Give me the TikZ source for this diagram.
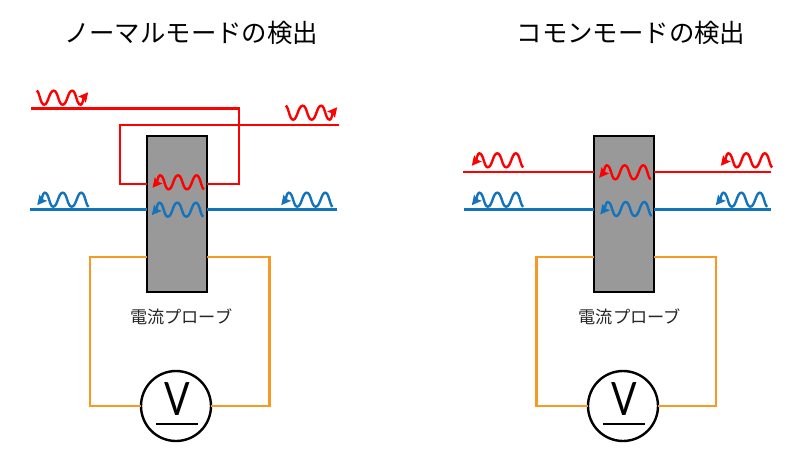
\documentclass[tikz,border=0pt]{standalone}
\usepackage{fontspec}
\setmainfont{Lato}
\newfontfamily\jp{Noto Sans CJK JP}
\usetikzlibrary{arrows.meta}
\definecolor{wred}{HTML}{FF0000}
\definecolor{wblue}{HTML}{1473BD}
\definecolor{worange}{HTML}{F79A24}
\definecolor{pgray}{HTML}{999999}
\tikzset{
  redwire/.style={draw=wred,line width=2.4pt},
  bluewire/.style={draw=wblue,line width=2.4pt},
  orangewire/.style={draw=worange,line width=2.4pt},
  probebox/.style={draw=black,fill=pgray,line width=2.4pt,minimum width=60pt,minimum height=156pt,inner sep=0pt,outer sep=0pt},
  meter/.style={draw=black,fill=white,circle,line width=2.4pt,minimum size=70pt,inner sep=0pt,outer sep=0pt},
  titletext/.style={font=\jp\fontsize{25.4}{25.4}\selectfont,text=black,inner sep=0pt},
  probetext/.style={font=\jp\fontsize{17.2}{17.2}\selectfont,text=black!85,inner sep=0pt},
  vtext/.style={font=\fontsize{46}{46}\selectfont,text=black,inner sep=0pt,xscale=.82},
  wavy/.pic={
    \draw[line width=2.4pt,pic actions,-{Stealth[length=9.5pt,width=9.5pt,inset=1.5pt]}]
      (0,0) .. controls (-3,-1) and (-3.5,-14) .. (-7.5,-14)
      .. controls (-11.5,-14) and (-12.5,0) .. (-17,0)
      .. controls (-21.5,0) and (-21.5,-14) .. (-26,-14)
      .. controls (-30.5,-14) and (-31,0) .. (-35.5,0)
      .. controls (-39.5,0) and (-39.5,-14) .. (-44,-14)
      .. controls (-46,-14) and (-47,-7) .. (-51.5,-1.5);
  }
}
\begin{document}
\begin{tikzpicture}[x=1pt,y=-1pt]
\useasboundingbox (0,0) rectangle (800,463);
% left panel
\node[titletext] (t1) at (191,33) {ノーマルモードの検出};
\node[probebox] (p1) at (177,214) {};
\node[meter] (m1) at (176,406) {};
\coordinate (ra) at (31,108.3);
\coordinate (rb) at (239,108.3);
\coordinate (rc) at (239,183.7);
\coordinate (rd) at (339,125.2);
\coordinate (re) at (120,125.2);
\coordinate (rf) at (120,183.7);
\coordinate (bl1) at (30,209.3);
\coordinate (br1) at (337,209.3);
\coordinate (oa) at (90,256.7);
\coordinate (ob) at (90,406);
\coordinate (oc) at (269.5,256.7);
\coordinate (od) at (269.5,406);
\draw[redwire] (ra) -- (rb) -- (rc) -- (p1.east |- rc);
\draw[redwire] (rd) -- (re) -- (rf) -- (p1.west |- rf);
\draw[bluewire] (bl1) -- (p1.west |- bl1);
\draw[bluewire] (p1.east |- br1) -- (br1);
\draw[orangewire] (p1.west |- oa) -- (oa) -- (ob) -- (m1.west);
\draw[orangewire] (p1.east |- oc) -- (oc) -- (od) -- (m1.east);
\node[vtext] (v1) at (177,399.5) {V};
\coordinate (ua1) at (156,424);
\coordinate (ub1) at (197.5,424);
\draw[line width=2.4pt,black] (ua1) -- (ub1);
\node[probetext] (l1) at (181.2,316.3) {電流プローブ};
\pic[wred,rotate=180] at (36.7,90.7) {wavy};
\pic[wred,rotate=180] at (285.7,105.7) {wavy};
\pic[wred] at (204,189.3) {wavy};
\pic[wblue] at (203.3,216.7) {wavy};
\pic[wblue] at (88.7,206.7) {wavy};
\pic[wblue] at (332.7,206.7) {wavy};
% right panel
\node[titletext] (t2) at (631,33) {コモンモードの検出};
\node[probebox] (p2) at (624,214) {};
\node[meter] (m2) at (623,406) {};
\coordinate (rl2) at (463,171.7);
\coordinate (rr2) at (771,171.7);
\coordinate (bl2) at (464,209.3);
\coordinate (br2) at (771,209.3);
\coordinate (oa2) at (536.5,256.7);
\coordinate (ob2) at (536.5,406);
\coordinate (oc2) at (716,256.7);
\coordinate (od2) at (716,406);
\draw[redwire] (rl2) -- (p2.west |- rl2);
\draw[redwire] (p2.east |- rr2) -- (rr2);
\draw[bluewire] (bl2) -- (p2.west |- bl2);
\draw[bluewire] (p2.east |- br2) -- (br2);
\draw[orangewire] (p2.west |- oa2) -- (oa2) -- (ob2) -- (m2.west);
\draw[orangewire] (p2.east |- oc2) -- (oc2) -- (od2) -- (m2.east);
\node[vtext] (v2) at (624,399.5) {V};
\coordinate (ua2) at (603,424);
\coordinate (ub2) at (644.5,424);
\draw[line width=2.4pt,black] (ua2) -- (ub2);
\node[probetext] (l2) at (629.7,316.3) {電流プローブ};
\pic[wred] at (523.3,167.3) {wavy};
\pic[wred] at (772.3,167.3) {wavy};
\pic[wred] at (650.7,179.3) {wavy};
\pic[wblue] at (523.3,206.7) {wavy};
\pic[wblue] at (767.3,206.7) {wavy};
\pic[wblue] at (651.7,216) {wavy};
\end{tikzpicture}
\end{document}
